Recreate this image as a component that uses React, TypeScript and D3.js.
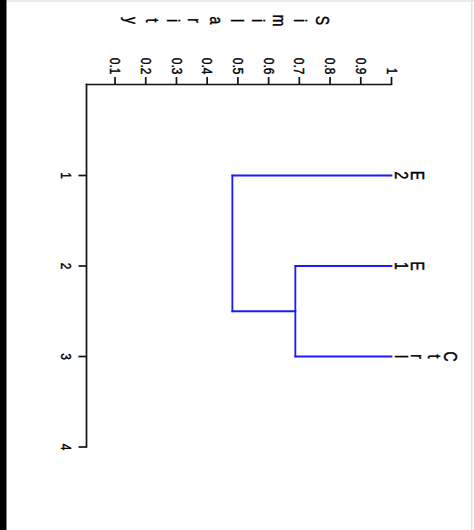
import React from "react";
import * as d3 from "d3";

// ---- data ----
const simTicks = [0.1, 0.2, 0.3, 0.4, 0.5, 0.6, 0.7, 0.8, 0.9, 1];
const simTickLabels = ["0.1", "0.2", "0.3", "0.4", "0.5", "0.6", "0.7", "0.8", "0.9", "1"];
const posTicks = [1, 2, 3, 4];
const posTickLabels = ["1", "2", "3", "4"];
const axisTitle = "Similarity";
const leafLabels = ["E2", "E1", "Ctrl"];
const leafSimilarity = 1;
// hclust-style merges: negative = leaf index (1-based), positive = earlier merge (1-based)
const mergePairs: [number, number][] = [[-2, -3], [-1, 1]];
const mergeHeights = [0.687, 0.482];

const W = 474;
const H = 530;
const FONT = "'Liberation Sans', Arial, sans-serif";

export default function App() {
  const sim = d3.scaleLinear().domain([0, 1]).range([84.3, 391.5]);
  const pos = d3.scaleLinear().domain([0, 4]).range([85, 447]);

  const axisX = 86.5;
  const axisY = 84.5;

  type Node = { s: number; p: number };
  const leaves: Node[] = leafLabels.map((_, i) => ({ s: leafSimilarity, p: i + 1 }));
  const merged: Node[] = [];
  const segs: [number, number, number, number][] = [];
  const get = (k: number) => (k < 0 ? leaves[-k - 1] : merged[k - 1]);
  mergePairs.forEach(([a, b], i) => {
    const na = get(a);
    const nb = get(b);
    const h = mergeHeights[i];
    const x = sim(h);
    segs.push([sim(na.s), pos(na.p), x, pos(na.p)]);
    segs.push([sim(nb.s), pos(nb.p), x, pos(nb.p)]);
    segs.push([x, pos(na.p), x, pos(nb.p)]);
    merged.push({ s: h, p: (na.p + nb.p) / 2 });
  });

  const rot = (x: number, y: number, sx: number) =>
    `translate(${x},${y}) scale(${sx},1) rotate(90)`;

  const textStyle = { stroke: "#000", strokeWidth: 0.35 };

  return (
    <div style={{ position: "fixed", left: 0, top: 0 }}>
      <svg width={W} height={H} style={{ display: "block" }}>
        <rect x={0} y={0} width={W} height={H} fill="#fff" />
        <rect x={0} y={0} width={W} height={2} fill="#ececec" />
        <rect x={471} y={0} width={1.5} height={H} fill="#e4e4e4" />
        <rect x={0} y={0} width={6.5} height={H} fill="#000" />

        {/* axes */}
        <g stroke="#111" strokeWidth={1.7} fill="none" strokeLinecap="square">
          <line x1={axisX} y1={axisY} x2={sim(1)} y2={axisY} />
          <line x1={axisX} y1={axisY} x2={axisX} y2={pos(4)} />
          {simTicks.map((t) => (
            <line key={"st" + t} x1={sim(t)} y1={axisY} x2={sim(t)} y2={axisY - 7.5} strokeLinecap="butt" />
          ))}
          {posTicks.map((t) => (
            <line key={"pt" + t} x1={axisX} y1={pos(t)} x2={axisX - 8} y2={pos(t)} strokeLinecap="butt" />
          ))}
        </g>

        {/* tick labels */}
        <g fontFamily={FONT} fontSize={12} fill="#000" style={textStyle}>
          {simTicks.map((t, i) => (
            <text
              key={"sl" + t}
              transform={rot(sim(t), 74.5, 1.2)}
              textAnchor="end"
              dominantBaseline="central"
            >
              {simTickLabels[i]}
            </text>
          ))}
          {posTicks.map((t, i) => (
            <text
              key={"pl" + t}
              transform={rot(66, pos(t), 1.2)}
              textAnchor="middle"
              dominantBaseline="central"
            >
              {posTickLabels[i]}
            </text>
          ))}
        </g>

        {/* axis title, stacked characters */}
        <g fontFamily={FONT} fontSize={14} fill="#000" style={textStyle}>
          {axisTitle.split("").map((c, i) => (
            <text key={"t" + i} transform={rot(315.5 - i * 21.2, 20.5, 1.3)} textAnchor="middle">
              {c}
            </text>
          ))}
        </g>

        {/* dendrogram */}
        <g stroke="#1a1aff" strokeWidth={1.8} fill="none" strokeLinecap="square">
          {segs.map((s, i) => (
            <line key={"d" + i} x1={s[0]} y1={s[1]} x2={s[2]} y2={s[3]} />
          ))}
        </g>

        {/* leaf labels, stacked characters */}
        <g fontFamily={FONT} fontSize={14} fill="#000" style={textStyle}>
          {leafLabels.map((lab, li) =>
            lab.split("").map((c, i) => (
              <text
                key={"l" + li + "_" + i}
                transform={rot(394.5 + (lab.length - 1 - i) * 16.5, pos(li + 1), 1.3)}
                textAnchor="middle"
              >
                {c}
              </text>
            ))
          )}
        </g>
      </svg>
    </div>
  );
}
